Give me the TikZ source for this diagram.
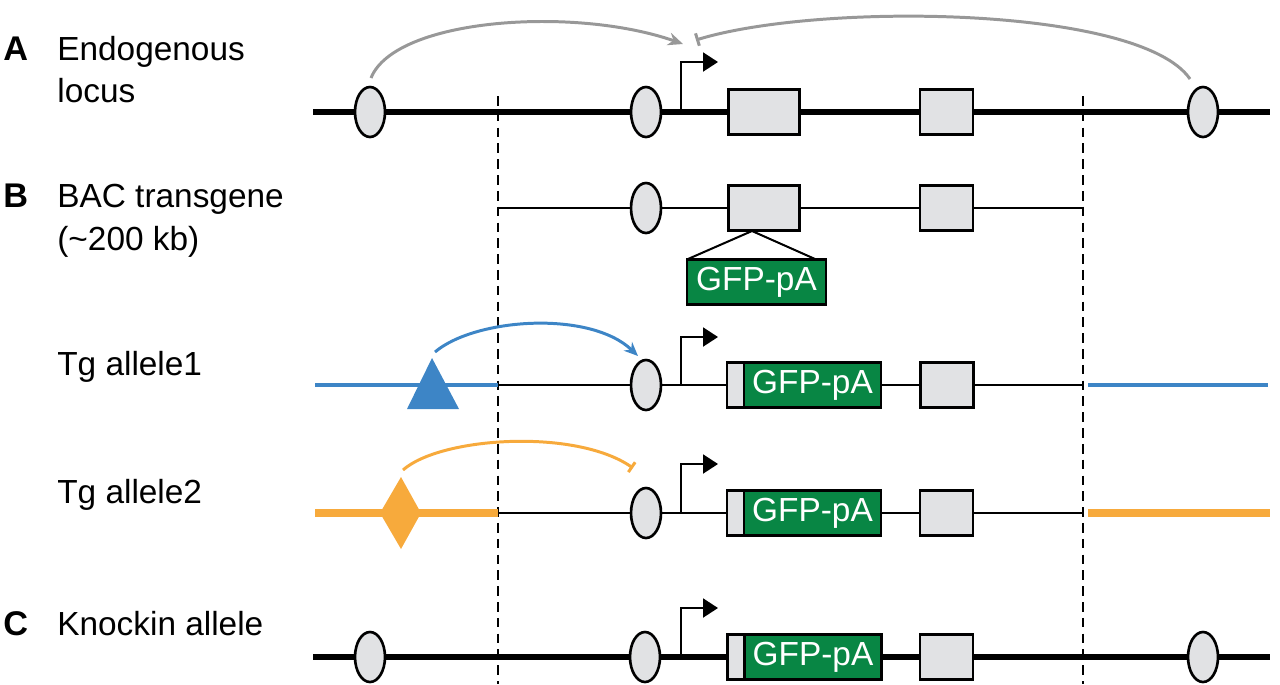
\documentclass[tikz,border=0pt]{standalone}
\usepackage{fontspec}
\setmainfont{Liberation Sans}
\usetikzlibrary{arrows.meta,shapes.geometric}
\definecolor{exgray}{RGB}{225,226,228}
\definecolor{gfpgreen}{RGB}{8,134,68}
\definecolor{tgblue}{RGB}{61,133,198}
\definecolor{tgorange}{RGB}{247,170,60}
\definecolor{arcgray}{RGB}{152,152,152}
\tikzset{
  ell/.style={draw, ellipse, fill=exgray, line width=1.5pt, minimum width=0.6cm, minimum height=1cm, inner sep=0pt},
  exon/.style={draw, rectangle, fill=exgray, line width=1.5pt, inner sep=0pt, minimum height=0.9cm},
  gfp/.style={draw, rectangle, fill=gfpgreen, text=white, line width=1.5pt, inner sep=0pt, minimum height=0.9cm, font=\fontsize{19}{23}\selectfont},
  lab/.style={anchor=base west, inner sep=0pt, font=\fontsize{19}{23}\selectfont},
  letter/.style={anchor=base west, inner sep=0pt, font=\fontsize{19.5}{23}\selectfont\bfseries},
  thickline/.style={line width=2.9pt},
  thinline/.style={line width=1.15pt},
  prom/.style={line width=1.15pt, -{Triangle[length=0.3cm,width=0.38cm]}},
  dashline/.style={line width=1.25pt, dash pattern=on 5.5pt off 3.5pt},
  bluethick/.style={line width=2.8pt, tgblue},
  orangethick/.style={line width=4.5pt, tgorange},
}
\begin{document}
\begin{tikzpicture}[x=0.02cm,y=-0.02cm]
\useasboundingbox (0,0) rectangle (1280,684);

% ---------- labels ----------
\node[letter] (lA) at (3,60) {A};
\node[lab] (tA1) at (57,60) {Endogenous};
\node[lab] (tA2) at (57,102) {locus};
\node[letter] (lB) at (3,207) {B};
\node[lab] (tB1) at (57,207) {BAC transgene};
\node[lab] (tB2) at (57,250) {(\char`\~200 kb)};
\node[lab] (tT1) at (57,375) {Tg allele1};
\node[lab] (tT2) at (57,503) {Tg allele2};
\node[letter] (lC) at (3,635) {C};
\node[lab] (tC) at (57,635) {Knockin allele};

% ---------- dashed boundaries ----------
\coordinate (d1t) at (498,96);
\coordinate (d1b) at (498,684);
\coordinate (d2t) at (1083,96);
\coordinate (d2b) at (1083,684);
\draw[dashline] (d1t) -- (d1b);
\draw[dashline] (d2t) -- (d2b);

% ---------- row A ----------
\node[ell] (aE1) at (370,112) {};
\node[ell] (aE2) at (646,112) {};
\node[exon, minimum width=1.42cm] (aX1) at (764,112) {};
\node[exon, minimum width=1.06cm] (aX2) at (946.5,112) {};
\node[ell] (aE3) at (1203,112) {};
\coordinate (a0) at (313,112);
\coordinate (a9) at (1270,112);
\draw[thickline] (a0) -- (aE1) -- (aE2) -- (aX1) -- (aX2) -- (aE3) -- (a9);
\coordinate (aP) at (681,112);
\coordinate (aPt) at (718,62);
\draw[prom] (aP) |- (aPt);
% long-range arcs
\coordinate (arcL0) at (371,78);
\coordinate (arcL1) at (683,44);
\coordinate (arcR0) at (1190,79);
\coordinate (arcR1) at (696,40);
\draw[arcgray, line width=1.7pt, -{Stealth[length=0.3cm,width=0.26cm]}]
  (arcL0) .. controls (395,18) and (575,6) .. (arcL1);
\draw[arcgray, line width=1.7pt, -{Bar[width=0.26cm]}]
  (arcR0) .. controls (1140,6) and (820,2) .. (arcR1);

% ---------- row B ----------
\node[ell] (bE) at (646,208) {};
\node[exon, minimum width=1.42cm] (bX1) at (764,208) {};
\node[exon, minimum width=1.06cm] (bX2) at (946.5,208) {};
\coordinate (b0) at (498,208);
\coordinate (b9) at (1082,208);
\draw[thinline] (b0) -- (bE) -- (bX1) -- (bX2) -- (b9);
\node[gfp, minimum width=2.78cm] (bG) at (756.5,282) {GFP-pA};
\coordinate (bIns) at (752,231);
\coordinate (bInsL) at (688,259);
\coordinate (bInsR) at (815,259);
\draw[thinline] (bInsL) -- (bIns) -- (bInsR);

% ---------- Tg allele1 ----------
\coordinate (t1a) at (315,385);
\coordinate (t1b) at (498,385);
\draw[bluethick] (t1a) -- (t1b);
\fill[tgblue] (407,409) -- (432,358) -- (459,409) -- cycle;
\node[ell] (t1E) at (646,385) {};
\node[exon, minimum width=0.34cm] (t1s) at (735.5,385) {};
\node[gfp, minimum width=2.74cm] (t1G) at (812.5,385) {GFP-pA};
\node[exon, minimum width=1.06cm] (t1X) at (947,385) {};
\coordinate (t1c) at (1083,385);
\coordinate (t1d) at (1088,385);
\coordinate (t1e) at (1268,385);
\draw[thinline] (t1b) -- (t1E) -- (t1s);
\draw[thinline] (t1G) -- (t1X) -- (t1c);
\draw[bluethick] (t1d) -- (t1e);
\coordinate (t1P) at (681,385);
\coordinate (t1Pt) at (718,337);
\draw[prom] (t1P) |- (t1Pt);
\coordinate (t1r0) at (435,352);
\coordinate (t1r1) at (638,356);
\draw[tgblue, line width=1.7pt, -{Stealth[length=0.28cm,width=0.24cm]}]
  (t1r0) .. controls (475,318) and (590,310) .. (t1r1);

% ---------- Tg allele2 ----------
\coordinate (t2a) at (315,513);
\coordinate (t2b) at (498,513);
\draw[orangethick] (t2a) -- (t2b);
\fill[tgorange] (401,477) -- (421,513) -- (401,549) -- (380,513) -- cycle;
\node[ell] (t2E) at (646,513) {};
\node[exon, minimum width=0.34cm] (t2s) at (735.5,513) {};
\node[gfp, minimum width=2.74cm] (t2G) at (812.5,513) {GFP-pA};
\node[exon, minimum width=1.06cm] (t2X) at (946.5,513) {};
\coordinate (t2c) at (1083,513);
\coordinate (t2d) at (1088,513);
\coordinate (t2e) at (1270,513);
\draw[thinline] (t2b) -- (t2E) -- (t2s);
\draw[thinline] (t2G) -- (t2X) -- (t2c);
\draw[orangethick] (t2d) -- (t2e);
\coordinate (t2P) at (681,513);
\coordinate (t2Pt) at (718,464);
\draw[prom] (t2P) |- (t2Pt);
\coordinate (t2r0) at (403,470);
\coordinate (t2r1) at (633,468);
\draw[tgorange, line width=1.7pt, -{Bar[width=0.24cm]}]
  (t2r0) .. controls (440,437) and (575,428) .. (t2r1);

% ---------- row C ----------
\node[ell] (cE1) at (370,657) {};
\node[ell] (cE2) at (645,657) {};
\node[exon, minimum width=0.34cm] (cs) at (736,657) {};
\node[gfp, minimum width=2.74cm] (cG) at (813,657) {GFP-pA};
\node[exon, minimum width=1.06cm] (cX) at (946.5,657) {};
\node[ell] (cE3) at (1203,657) {};
\coordinate (c0) at (313,657);
\coordinate (c9) at (1270,657);
\draw[thickline] (c0) -- (cE1) -- (cE2) -- (cs);
\draw[thickline] (cG) -- (cX) -- (cE3) -- (c9);
\coordinate (cP) at (681,657);
\coordinate (cPt) at (718,608);
\draw[prom] (cP) |- (cPt);
\end{tikzpicture}
\end{document}
